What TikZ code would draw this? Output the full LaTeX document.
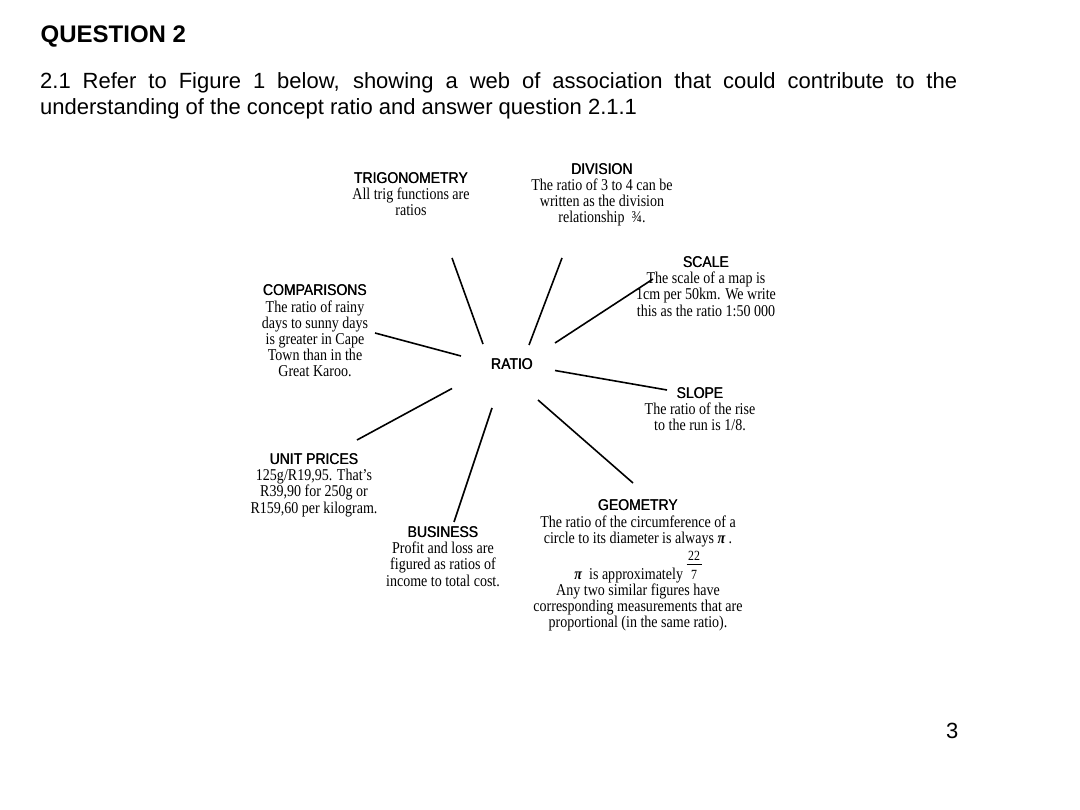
\documentclass[tikz,border=0pt]{standalone}
\usepackage{fontspec}
\setmainfont{Liberation Sans}
\newfontfamily\hdfont[FakeStretch=0.9]{Liberation Sans}
\newfontfamily\tnr[FakeStretch=0.85]{Liberation Serif}
\newcommand\thk[1]{\rlap{#1}\kern0.45pt#1}
\newcommand\ttl[1]{\rule{0pt}{12pt}{\hdfont\fontsize{15.5}{16.2}\selectfont\thk{#1}}}
\newcommand\pii{{\bfseries\itshape π}}
\newcommand\frc{\makebox[15pt][c]{\fontsize{14}{14}\selectfont 7}\llap{\raisebox{15pt}[0pt][0pt]{\rule{15pt}{0.6pt}}}\llap{\raisebox{19.3pt}[0pt][0pt]{\makebox[15pt][c]{\fontsize{14}{14}\selectfont 22}}}}
\tikzset{
  topic/.style={align=center, inner sep=0pt, anchor=north, font=\tnr\fontsize{16.5}{16.2}\selectfont},
  link/.style={line width=1.6pt},
  plain/.style={inner sep=0pt, anchor=base west}
}
\begin{document}
\begin{tikzpicture}[x=1pt,y=-1pt]
\useasboundingbox (0,0) rectangle (1080,810);
% header
\node[plain, font=\bfseries\fontsize{24}{28}\selectfont] (q) at (40.5,42.3) {QUESTION 2};
\node[plain, font=\fontsize{22}{26}\selectfont] (p1) at (40,88.3) {\makebox[917pt][s]{2.1 Refer to Figure 1 below, showing a web of association that could contribute to the}};
\node[plain, font=\fontsize{22}{26}\selectfont] (p2) at (40,114.8) {understanding of the concept ratio and answer question 2.1.1};
\node[inner sep=0pt, anchor=base east, font=\fontsize{22}{26}\selectfont] (pg) at (958.5,738.3) {3};
% topics
\node[topic] (trig) at (411,171.3) {\ttl{TRIGONOMETRY}\\All trig functions are\\ratios};
\node[topic] (div) at (602,162) {\ttl{DIVISION}\\The ratio of 3 to 4 can be\\written as the division\\relationship\ \ ¾.};
\node[topic] (scale) at (706,255.3) {\ttl{SCALE}\\The scale of a map is\\1cm per 50km. We write\\this as the ratio 1:50 000};
\node[topic] (comp) at (315,283.7) {\ttl{COMPARISONS}\\The ratio of rainy\\days to sunny days\\is greater in Cape\\Town than in the\\Great Karoo.};
\node[inner sep=0pt, anchor=base, font=\hdfont\fontsize{15.5}{16}\selectfont] (ratio) at (512,369.3) {\thk{RATIO}};
\node[topic] (slope) at (700,386.3) {\ttl{SLOPE}\\The ratio of the rise\\to the run is 1/8.};
\node[topic] (unit) at (314,452.3) {\ttl{UNIT PRICES}\\125g/R19,95. That’s\\R39,90 for 250g or\\R159,60 per kilogram.};
\node[topic] (bus) at (443,525.3) {\ttl{BUSINESS}\\Profit and loss are\\figured as ratios of\\income to total cost.};
\node[topic] (geom) at (638,498.7) {\ttl{GEOMETRY}\\The ratio of the circumference of a\\circle to its diameter is always \pii\ .\\[19.8pt]\pii\ \ is approximately\ \frc\\Any two similar figures have\\corresponding measurements that are\\proportional (in the same ratio).};
% connector ends
\coordinate (t1) at (483,344); \coordinate (t2) at (452,258);
\coordinate (d1) at (529,345); \coordinate (d2) at (562,258);
\coordinate (s1) at (555,343); \coordinate (s2) at (653,279);
\coordinate (l1) at (555,370.5); \coordinate (l2) at (667,390);
\coordinate (g1) at (538,400); \coordinate (g2) at (633,483);
\coordinate (b1) at (492,408); \coordinate (b2) at (454,522);
\coordinate (u1) at (452,388.5); \coordinate (u2) at (357,440);
\coordinate (c1) at (461,356); \coordinate (c2) at (375,333);
\draw[link] (t1) -- (t2);
\draw[link] (d1) -- (d2);
\draw[link] (s1) -- (s2);
\draw[link] (l1) -- (l2);
\draw[link] (g1) -- (g2);
\draw[link] (b1) -- (b2);
\draw[link] (u1) -- (u2);
\draw[link] (c1) -- (c2);
\end{tikzpicture}
\end{document}
